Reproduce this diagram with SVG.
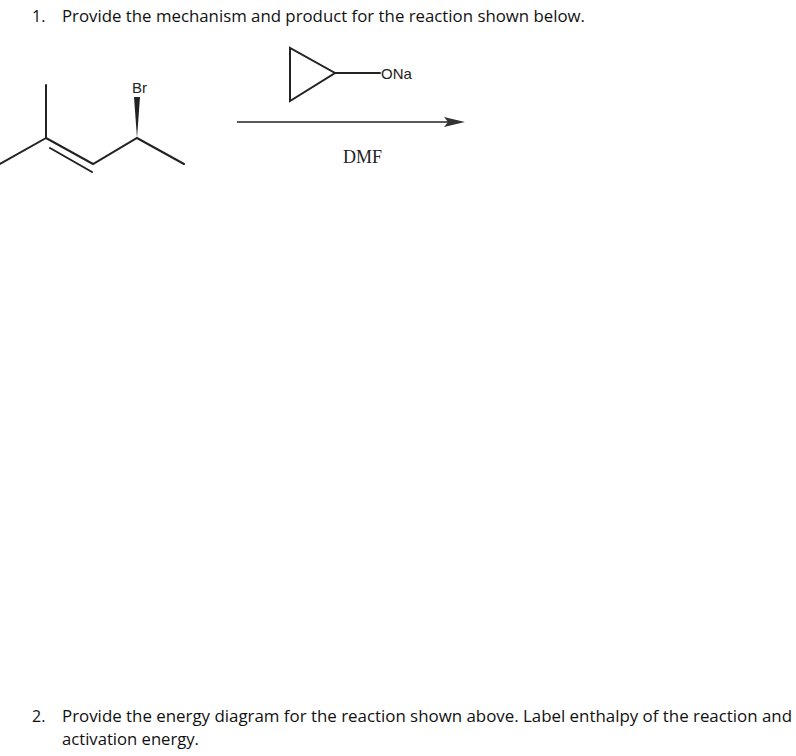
<svg xmlns="http://www.w3.org/2000/svg" width="796" height="756" viewBox="0 0 796 756">
<style>
.q{font-family:"Open Sans","Liberation Sans",sans-serif;font-size:16px;fill:#111}
.b{stroke:#222;stroke-width:2;fill:none;stroke-linecap:round}
.a{font-family:"Liberation Sans",Arial,sans-serif;font-size:15px;fill:#222}
</style>
<rect width="796" height="756" fill="#fff"/>
<text class="q" x="32" y="22">1.</text>
<text class="q" x="62" y="22" textLength="523" lengthAdjust="spacingAndGlyphs">Provide the mechanism and product for the reaction shown below.</text>
<g id="substrate">
<path class="b" d="M46,85 L46,138 L0,164 M46,138 L93,164 L137,138 L184,164 M50,148 L92,172"/>
<polygon points="137,138 134,97 140,97" fill="#222"/>
<text class="a" x="132" y="93" font-size="14">Br</text>
</g>
<g id="reagent">
<path class="b" d="M290,48 L290,101 L335,73 Z M335,73 L380,73"/>
<text class="a" x="381" y="79">ONa</text>
</g>
<g id="connectors">
<line x1="237" y1="122" x2="450" y2="122" stroke="#222" stroke-width="1.5"/>
<polygon points="465,122 444,117 448,122 444,127" fill="#333"/>
</g>
<text x="343" y="163" font-family="Liberation Serif,serif" font-size="18" fill="#222">DMF</text>
<text class="q" x="32" y="722">2.</text>
<text class="q" x="62" y="722" textLength="730" lengthAdjust="spacingAndGlyphs">Provide the energy diagram for the reaction shown above. Label enthalpy of the reaction and</text>
<text class="q" x="62" y="745" textLength="137" lengthAdjust="spacingAndGlyphs">activation energy.</text>
</svg>
